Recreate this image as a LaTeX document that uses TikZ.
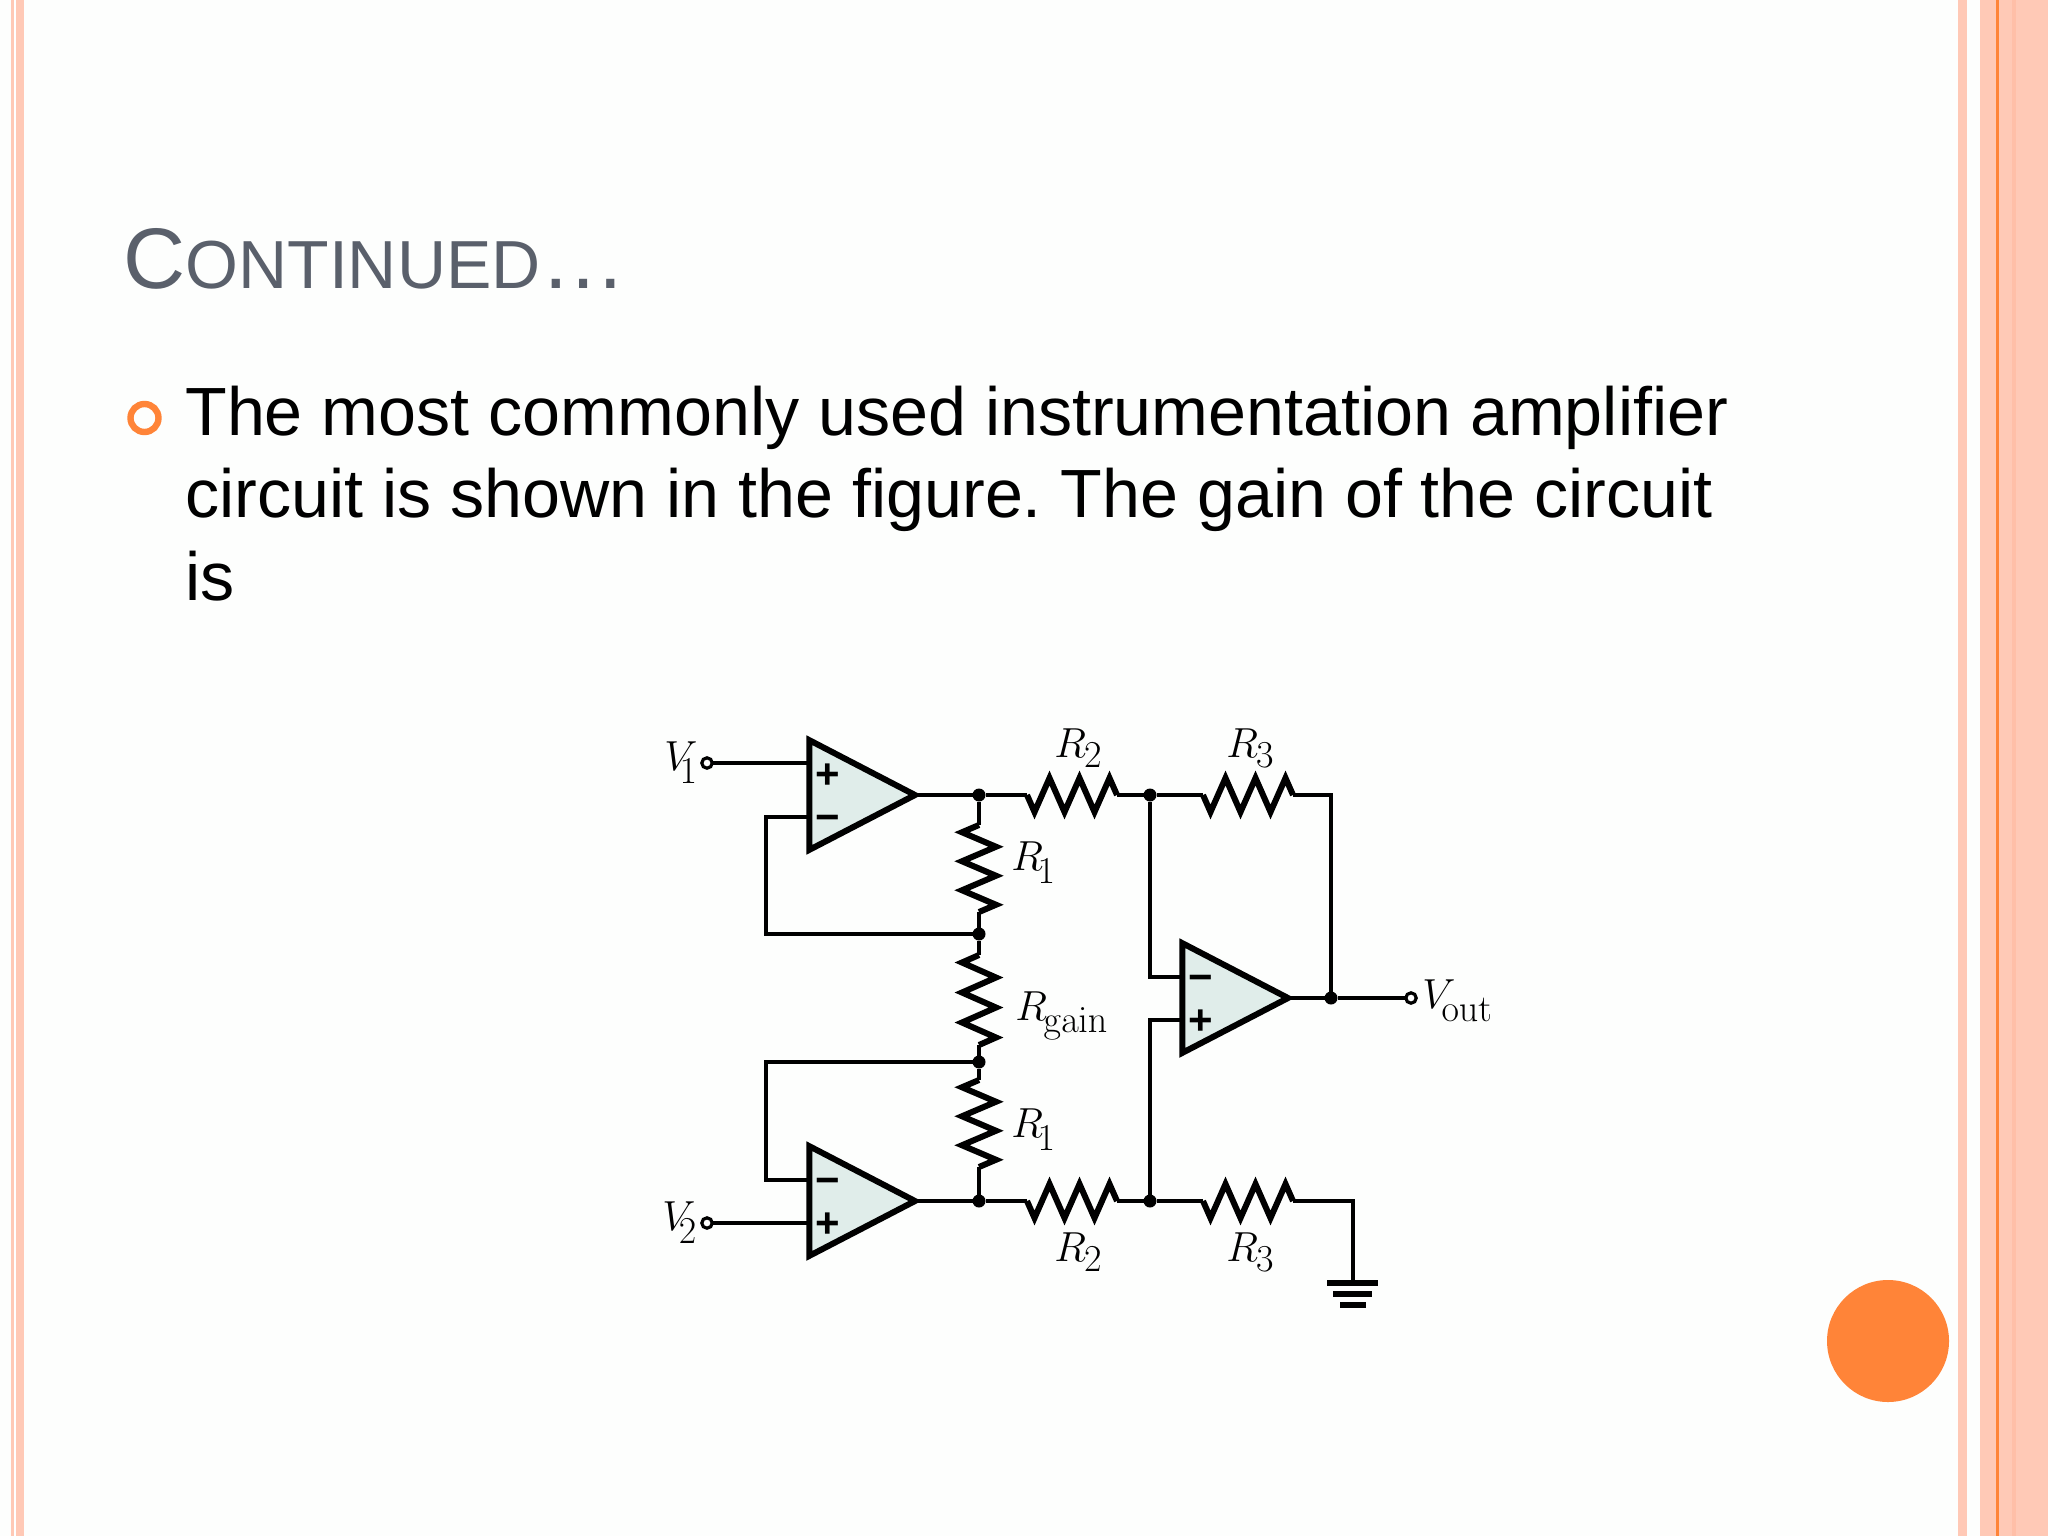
\documentclass[tikz,border=0pt]{standalone}
\usepackage{fix-cm}
\usepackage[no-math]{fontspec}
\setmainfont{Liberation Sans}
\usetikzlibrary{shapes.geometric, decorations.pathmorphing, positioning}
\DeclareMathSizes{21}{21}{19}{14}
\newcommand{\withsub}[4]{$#1$\kern#3\raisebox{-#4}{$\scriptstyle #2$}}
\definecolor{slidebg}{HTML}{FDFEFD}
\definecolor{peach}{HTML}{FFC9B6}
\definecolor{peachdark}{HTML}{FFBFA8}
\definecolor{accent}{HTML}{FF8438}
\definecolor{titlegrey}{HTML}{5A606B}
\definecolor{ampfill}{HTML}{E0EDEA}
\tikzset{
  opamp/.style = {isosceles triangle, isosceles triangle stretches, shape border rotate=0, draw=black, fill=ampfill, line width=3pt, inner sep=0pt, outer sep=0pt, minimum width=54.8pt, minimum height=52.8pt, anchor=apex},
  wire/.style = {line width=2.1pt},
  resistor/.style = {line width=3pt, decorate, decoration={zigzag, segment length=#1, amplitude=-8.5pt}},
  resistor/.default = 15pt,
  junction/.style = {circle, fill=black, inner sep=0pt, outer sep=0pt, minimum size=6.5pt},
  terminal/.style = {circle, draw=black, fill=white, line width=1.6pt, inner sep=0pt, outer sep=0pt, minimum size=5.2pt},
  lbl/.style = {anchor=base west, inner sep=0pt, font=\fontsize{21}{24}\selectfont},
  sign/.style = {inner sep=0pt, text height=14pt, text depth=0pt, font=\fontsize{21}{24}\selectfont\bfseries},
  gndbar/.style = {line width=3pt},
  bodyline/.style = {anchor=base west, inner sep=0pt, font=\fontsize{34.1}{41}\selectfont\frenchspacing}
}

\begin{document}
\begin{tikzpicture}[x=0.5pt, y=-0.5pt]
    \useasboundingbox (0,0) rectangle (2048,1536);

    % Slide background and side bands
    \fill[slidebg] (0,0) rectangle (2048,1536);
    \fill[peach] (10.5,0) rectangle (24,1536);
    \fill[white] (14,0) rectangle (16,1536);
    \fill[peach] (1958,0) rectangle (1967,1536);
    \fill[peach] (1980,0) rectangle (2048,1536);
    \fill[peachdark] (2012,0) rectangle (2016,1536);
    \fill[accent] (1995.5,0) rectangle (1998.5,1536);
    \fill[accent] (1888,1341) circle (61);

    % Title and text
    \node[anchor=base west, inner sep=0pt, text=titlegrey] (title) at (123,288)
      {{\fontsize{43}{50}\selectfont C}{\fontsize{34}{40}\selectfont ONTINUED}{\fontsize{43}{50}\selectfont …}};
    \node[circle, draw=accent, line width=3.2pt, inner sep=0pt, minimum size=14pt] (bullet) at (144.5,418) {};
    \node[bodyline] (line1) at (185,435) {The most commonly used instrumentation amplifier};
    \node[bodyline] (line2) at (185,517) {circuit is shown in the figure. The gain of the circuit};
    \node[bodyline] (line3) at (185,600) {is};

    % Three amplifiers
    \node[opamp] (amp1) at (915,795) {};
    \node[opamp] (amp2) at (915,1201) {};
    \node[opamp] (amp3) at (1288,998) {};
    \node[sign] (plus1) at (828,774) {+};
    \node[sign] (minus1) at (828,817) {−};
    \node[sign] (minus2) at (828,1180) {−};
    \node[sign] (plus2) at (828,1223) {+};
    \node[sign] (minus3) at (1201,977) {−};
    \node[sign] (plus3) at (1201,1020) {+};

    % Terminals and junctions
    \node[terminal] (v1) at (707,763) {};
    \node[terminal] (v2) at (707,1223) {};
    \node[terminal] (vout) at (1411,998) {};
    \node[junction] (top) at (979,795) {};
    \node[junction] (fbtop) at (979,934) {};
    \node[junction] (fbbot) at (979,1062) {};
    \node[junction] (bot) at (979,1201) {};
    \node[junction] (midtop) at (1150,795) {};
    \node[junction] (midbot) at (1150,1201) {};
    \node[junction] (outj) at (1331,998) {};

    % Ends of the resistors
    \coordinate (r1a) at (979,825);
    \coordinate (r1b) at (979,912);
    \coordinate (rga) at (979,955);
    \coordinate (rgb) at (979,1045);
    \coordinate (r1c) at (979,1080);
    \coordinate (r1d) at (979,1167);
    \coordinate (r2a) at (1027,795);
    \coordinate (r2b) at (1117,795);
    \coordinate (r3a) at (1203,795);
    \coordinate (r3b) at (1293,795);
    \coordinate (r2c) at (1027,1201);
    \coordinate (r2d) at (1117,1201);
    \coordinate (r3c) at (1203,1201);
    \coordinate (r3d) at (1293,1201);
    \coordinate (gnd) at (1353,1283);

    % Resistors
    \draw[resistor=14.5pt] (r1a) -- (r1b);
    \draw[resistor] (rga) -- (rgb);
    \draw[resistor=14.5pt] (r1c) -- (r1d);
    \draw[resistor] (r2a) -- (r2b);
    \draw[resistor] (r3a) -- (r3b);
    \draw[resistor] (r2c) -- (r2d);
    \draw[resistor] (r3c) -- (r3d);

    % Wires of the upper half
    \draw[wire] (v1) -- (v1 -| amp1.west);
    \draw[wire] (amp1.apex) -- (top);
    \draw[wire] (top) -- (r2a);
    \draw[wire] (r2b) -- (midtop);
    \draw[wire] (midtop) -- (r3a);
    \draw[wire] (top) -- (r1a);
    \draw[wire] (r1b) -- (fbtop);
    \draw[wire] (fbtop) -- (rga);
    \draw[wire] (fbtop) -| (766,817) -- (minus1 -| amp1.west);

    % Wires of the lower half
    \draw[wire] (v2) -- (v2 -| amp2.west);
    \draw[wire] (amp2.apex) -- (bot);
    \draw[wire] (bot) -- (r2c);
    \draw[wire] (r2d) -- (midbot);
    \draw[wire] (midbot) -- (r3c);
    \draw[wire] (rgb) -- (fbbot);
    \draw[wire] (fbbot) -- (r1c);
    \draw[wire] (r1d) -- (bot);
    \draw[wire] (fbbot) -| (766,1180) -- (minus2 -| amp2.west);

    % Wires of the output stage
    \draw[wire] (midtop) |- (minus3 -| amp3.west);
    \draw[wire] (midbot) |- (plus3 -| amp3.west);
    \draw[wire] (r3b) -| (outj);
    \draw[wire] (amp3.apex) -- (outj);
    \draw[wire] (outj) -- (vout);
    \draw[wire] (r3d) -| (gnd);

    % Ground
    \draw[gndbar] (1327,1283) -- (gnd) -- (1378,1283);
    \draw[gndbar] (1333,1294) -- (1372,1294);
    \draw[gndbar] (1340,1305) -- (1366,1305);

    % Labels
    \node[lbl] (lv1) at (664,770) {\withsub{V}{1}{-9pt}{6.5pt}};
    \node[lbl] (lv2) at (662,1230) {\withsub{V}{2}{-8.3pt}{6.5pt}};
    \node[lbl] (lvout) at (1422,1008) {\withsub{V}{\mathrm{out}}{-7pt}{6.5pt}};
    \node[lbl] (lr2a) at (1054,757) {\withsub{R}{2}{-1pt}{5pt}};
    \node[lbl] (lr3a) at (1226,757) {\withsub{R}{3}{-1pt}{5pt}};
    \node[lbl] (lr1a) at (1011,870) {\withsub{R}{1}{-2.7pt}{6.5pt}};
    \node[lbl] (lrg) at (1015,1020) {\withsub{R}{\mathrm{gain}}{-1.7pt}{6pt}};
    \node[lbl] (lr1b) at (1011,1137) {\withsub{R}{1}{-2.7pt}{6.5pt}};
    \node[lbl] (lr2b) at (1054,1261) {\withsub{R}{2}{-1pt}{5pt}};
    \node[lbl] (lr3b) at (1226,1261) {\withsub{R}{3}{-1pt}{5pt}};

  \end{tikzpicture}
\end{document}
